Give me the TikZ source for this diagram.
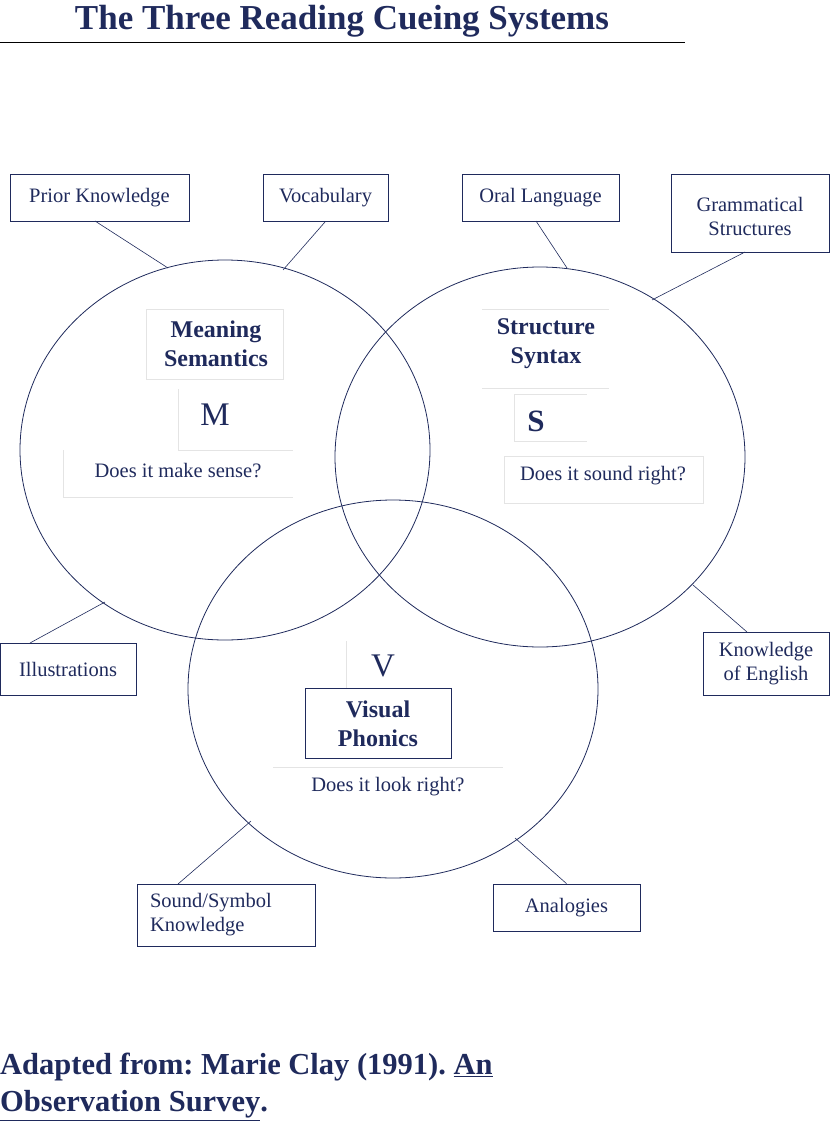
\documentclass[tikz,border=0pt]{standalone}
\usepackage{fontspec}
\setmainfont{Liberation Serif}
\frenchspacing
\definecolor{navy}{HTML}{1F2A5C}
\definecolor{faint}{HTML}{E4E4E4}
\begin{document}
\begin{tikzpicture}[x=1pt,y=-1pt,
  lab/.style={draw=navy,line width=0.8pt,text=navy,font=\fontsize{20.5}{24}\selectfont,align=center,inner sep=0pt},
  con/.style={draw=navy,line width=0.6pt},
  ring/.style={draw=navy,line width=0.8pt},
  fl/.style={draw=faint,line width=0.8pt},
  heads/.style={text=navy,font=\bfseries\fontsize{24}{29}\selectfont,align=center},
  q/.style={text=navy,font=\fontsize{20.5}{24}\selectfont}]
\useasboundingbox (0,0) rectangle (832,1121);
\node[text=navy,font=\bfseries\fontsize{35}{40}\selectfont] (title) at (342,21) {The Three Reading Cueing Systems};
\draw[black,line width=0.8pt] (0,42) coordinate (u1) -- (685,42) coordinate (u2);
% circles
\draw[ring] (225,450) ellipse [x radius=205,y radius=190];
\draw[ring] (540,457) ellipse [x radius=205,y radius=190];
\draw[ring] (393,689) ellipse [x radius=205,y radius=189];
% boxes
\node[lab,minimum width=179,minimum height=47] (pk) at (99.5,197.5) {Prior Knowledge};
\node[lab,minimum width=125,minimum height=47] (vo) at (325.5,197.5) {Vocabulary};
\node[lab,minimum width=157,minimum height=47] (ol) at (540.5,197.5) {Oral Language};
\node[lab,minimum width=158,minimum height=78,anchor=north] (gs) at (750,174) {\\[-4pt]Grammatical\\Structures};
\node[lab,minimum width=136,minimum height=52] (il) at (68,669) {Illustrations};
\node[lab,minimum width=126,minimum height=63] (ke) at (766,663.5) {Knowledge\\of English};
\node[lab,minimum width=178,minimum height=62,align=left,text width=152] (ss) at (226,915) {Sound/Symbol\\Knowledge};
\node[lab,minimum width=147,minimum height=47] (an) at (566.5,907.5) {Analogies};
% connector end points on circles
\coordinate (c1) at (168,268); \coordinate (c2) at (283,270);
\coordinate (c3) at (567,268); \coordinate (c4) at (652,300);
\coordinate (c5) at (105,602); \coordinate (c6) at (693,585);
\coordinate (c7) at (251,821); \coordinate (c8) at (515,838);
\draw[con] (95,221) -- (c1);
\draw[con] (vo.south) -- (c2);
\draw[con] (536,221) -- (c3);
\draw[con] (745,252) -- (c4);
\draw[con] (30,643) -- (c5);
\draw[con] (747,632) -- (c6);
\draw[con] (178,884) -- (c7);
\draw[con] (an.north) -- (c8);
% Meaning
\draw[fl] (146,309) rectangle (283,379);
\node[heads] (me) at (216,344) {Meaning\\Semantics};
\draw[fl] (178,389) -- (178,450) -- (293,450);
\node[text=navy,font=\fontsize{33}{36}\selectfont] (m) at (215,415) {M};
\draw[fl] (63,450) -- (63,497) -- (293,497);
\node[q] (mq) at (178,471) {Does it make sense?};
% Structure
\draw[fl] (482,309) -- (609,309); \draw[fl] (482,388) -- (609,388);
\node[heads] (st) at (546,344) {Structure\\Syntax};
\draw[fl] (514,394) -- (514,441) -- (587,441); \draw[fl] (514,394) -- (587,394);
\node[text=navy,font=\bfseries\fontsize{31}{34}\selectfont] (s) at (536,421) {S};
\draw[fl] (504,456) rectangle (703,503);
\node[q] (sq) at (603,476) {Does it sound right?};
% Visual
\draw[fl] (346,641) -- (346,688);
\node[text=navy,font=\fontsize{33}{36}\selectfont] (v) at (383,666) {V};
\draw[draw=navy,line width=0.8pt] (305,688) rectangle (451,758);
\node[heads] (vi) at (378,724) {Visual\\Phonics};
\draw[fl] (273,767) -- (503,767);
\node[q] (vq) at (388,787) {Does it look right?};
% footer
\node[anchor=west,inner sep=0pt,text=navy,font=\bfseries\fontsize{30.5}{37}\selectfont,align=left] (ft) at (0,1087) {Adapted from: Marie Clay (1991). \underline{An}\\\underline{Observation Survey}.};
\end{tikzpicture}
\end{document}
